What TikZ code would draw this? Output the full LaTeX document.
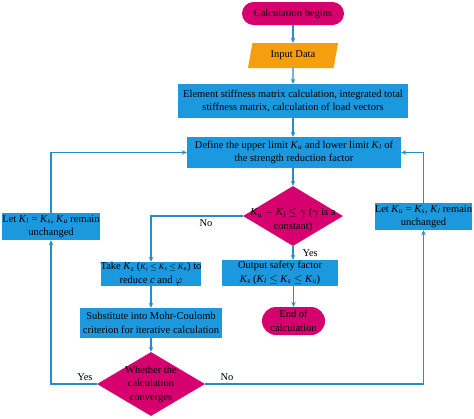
\documentclass[tikz,border=0pt]{standalone}
\usepackage{fontspec}
\setmainfont{Liberation Serif}
\usetikzlibrary{shapes.geometric,arrows.meta}
\definecolor{boxblue}{RGB}{27,152,222}
\definecolor{lineblue}{RGB}{38,140,204}
\definecolor{pillmag}{RGB}{214,0,111}
\definecolor{inorange}{RGB}{245,158,14}
\newcommand\KK[1]{\textit{K}\textsubscript{\textit{#1}}}
\begin{document}
\begin{tikzpicture}[x=1pt,y=-1pt,font=\fontsize{10.5}{13.5}\selectfont,
  box/.style={fill=boxblue,align=center,inner sep=0pt,text=black},
  pill/.style={fill=pillmag,align=center,inner sep=0pt,text=black},
  dia/.style={diamond,fill=pillmag,inner sep=0pt},
  inbox/.style={trapezium,trapezium left angle=64,trapezium right angle=116,trapezium stretches body,fill=inorange,inner sep=0pt},
  conn/.style={draw=lineblue,line width=1.1pt,-{Stealth[length=5pt,width=4.5pt]}},
  lbl/.style={inner sep=3pt,text=black}]
\useasboundingbox (0,0) rectangle (474,418);
\node[pill,minimum width=102pt,minimum height=23pt,rounded corners=11.5pt] (start) at (293,13.5) {Calculation begins};
\node[inbox,minimum width=90pt,minimum height=25pt] (inp) at (293,55.5) {Input Data};
\node[box,minimum width=230pt,minimum height=34pt] (elem) at (293,101) {Element stiffness matrix calculation, integrated total\\stiffness matrix, calculation of load vectors};
\node[box,minimum width=214pt,minimum height=31pt] (def) at (294,152.5) {Define the upper limit \KK{u} and lower limit \KK{l} of\\the strength reduction factor};
\node[dia,minimum width=100pt,minimum height=60pt] (d1) at (293,216) {};
\node[align=center,inner sep=0pt] (d1t) at (293,220) {\KK{u} $-$ \KK{l} $\le\gamma$ ($\gamma$ is a\\constant)};
\node[box,minimum width=116pt,minimum height=26pt] (out) at (280,273) {Output safety factor\\\KK{s} (\KK{l} $\le$ \KK{s} $\le$ \KK{u})};
\node[pill,minimum width=63pt,minimum height=28pt,rounded corners=14pt] (end) at (293.5,321) {End of\\calculation};
\node[box,minimum width=99pt,minimum height=24pt] (take) at (151,274) {Take \KK{s} ({\footnotesize\KK{l} $\le$ \KK{s} $\le$ \KK{u}}) to\\reduce \textit{c} and $\varphi$};
\node[box,minimum width=142pt,minimum height=30pt] (sub) at (151,323) {Substitute into Mohr-Coulomb\\criterion for iterative calculation};
\node[dia,minimum width=108pt,minimum height=64pt] (d2) at (151,384) {};
\node[align=center,inner sep=0pt] (d2t) at (151,384) {Whether the\\calculation\\converges};
\node[box,minimum width=98pt,minimum height=27pt] (lk) at (51,226.5) {Let \KK{l} = \KK{s}, \KK{u} remain\\unchanged};
\node[box,minimum width=97pt,minimum height=27pt] (rk) at (423.5,216.5) {Let \KK{u} = \KK{s}, \KK{l} remain\\unchanged};
\draw[conn] (start) -- (inp);
\draw[conn] (inp) -- (elem);
\draw[conn] (elem.south) -- (elem.south |- def.north);
\draw[conn] (d1.north |- def.south) -- (d1.north);
\draw[conn] (d1.south) -- (d1.south |- out.north) node[lbl,pos=0.5,right,xshift=6pt] (yes1) {Yes};
\draw[conn] (out.south -| end.north) -- (end.north);
\draw[conn] (d1.west) -| (take.north) node[lbl,pos=0.2,below] (no1) {No};
\draw[conn] (take) -- (sub);
\draw[conn] (sub) -- (d2);
\draw[conn] (d2.west) -| (lk.south) node[lbl,pos=0.13,above] (yes2) {Yes};
\draw[conn] (d2.east) -| (rk.south) node[lbl,pos=0.05,above] (no2) {No};
\draw[conn] (lk.north) |- (def.west);
\draw[conn] (rk.north) |- (def.east);
\end{tikzpicture}
\end{document}
